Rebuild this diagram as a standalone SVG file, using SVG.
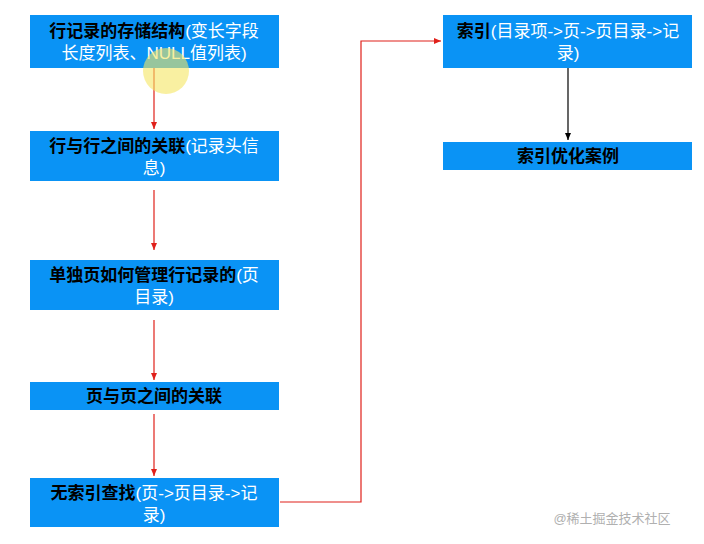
<svg xmlns="http://www.w3.org/2000/svg" width="704" height="544" viewBox="0 0 704 544">
<style>
.box{fill:#0a93f5}
text{font-family:"Liberation Sans","Noto Sans CJK SC",sans-serif;font-size:17px;text-anchor:middle}
.b{font-weight:bold;fill:#000}
.w{fill:#fff}
.red{stroke:#e0201a;stroke-width:1.2;fill:none;marker-end:url(#ar)}
.blk{stroke:#000;stroke-width:1.2;fill:none;marker-end:url(#ab)}
</style>
<defs>
<marker id="ar" markerWidth="8" markerHeight="8" refX="7" refY="4" orient="auto" markerUnits="userSpaceOnUse"><path d="M0,1 L7,4 L0,7 Z" fill="#e0201a"/></marker>
<marker id="ab" markerWidth="8" markerHeight="8" refX="7" refY="4" orient="auto" markerUnits="userSpaceOnUse"><path d="M0,1 L7,4 L0,7 Z" fill="#000"/></marker>
</defs>
<rect width="704" height="544" fill="#fff"/>
<g id="edges">
<path class="red" d="M154,68 V129"/>
<path class="red" d="M154,190 V250"/>
<path class="red" d="M154,320 V380"/>
<path class="red" d="M154,414 V476"/>
<path class="red" d="M280,502 H361 V41 H441"/>
<path class="blk" d="M568,68 V140"/>
</g>
<g id="n1"><rect class="box" x="30" y="15" width="249" height="53"/>
<text x="154" y="37"><tspan class="b">行记录的存储结构</tspan><tspan class="w">(变长字段</tspan></text>
<text x="154" y="59" class="w">长度列表、NULL值列表)</text></g>
<g id="n2"><rect class="box" x="30" y="131" width="249" height="50"/>
<text x="154" y="152"><tspan class="b">行与行之间的关联</tspan><tspan class="w">(记录头信</tspan></text>
<text x="154" y="174" class="w">息)</text></g>
<g id="n3"><rect class="box" x="30" y="260" width="249" height="50"/>
<text x="154" y="281"><tspan class="b">单独页如何管理行记录的</tspan><tspan class="w">(页</tspan></text>
<text x="154" y="303" class="w">目录)</text></g>
<g id="n4"><rect class="box" x="30" y="382" width="249" height="28"/>
<text x="154" y="402" class="b">页与页之间的关联</text></g>
<g id="n5"><rect class="box" x="30" y="478" width="249" height="49"/>
<text x="154" y="499"><tspan class="b">无索引查找</tspan><tspan class="w">(页-&gt;页目录-&gt;记</tspan></text>
<text x="154" y="521" class="w">录)</text></g>
<g id="n6"><rect class="box" x="443" y="15" width="249" height="53"/>
<text x="568" y="37"><tspan class="b">索引</tspan><tspan class="w">(目录项-&gt;页-&gt;页目录-&gt;记</tspan></text>
<text x="568" y="59" class="w">录)</text></g>
<g id="n7"><rect class="box" x="443" y="142" width="249" height="28"/>
<text x="568" y="162" class="b">索引优化案例</text></g>
<circle cx="166" cy="71" r="23" fill="#f5e663" opacity="0.6"/>
<text x="612" y="523" style="font-size:13px;fill:#b0b0b0">@稀土掘金技术社区</text>
</svg>
